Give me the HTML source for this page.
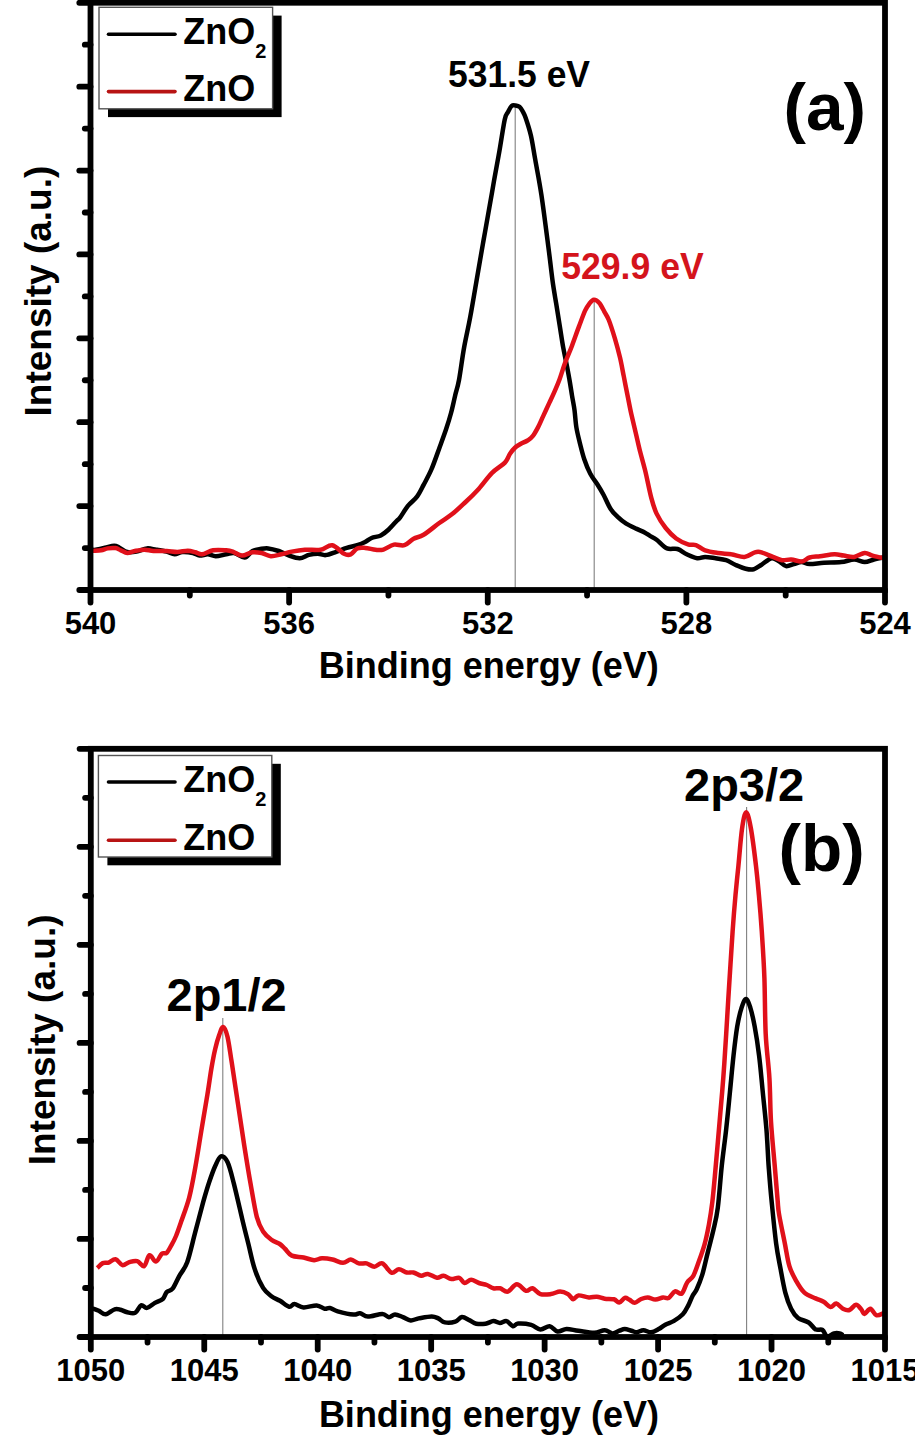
<!DOCTYPE html><html><head><meta charset="utf-8"><style>html,body{margin:0;padding:0;background:#fff;width:915px;height:1436px;overflow:hidden}svg{display:block}</style></head><body>
<svg width="915" height="1436" viewBox="0 0 915 1436">
<rect width="915" height="1436" fill="#fff"/>
<line x1="515.2" y1="106" x2="515.2" y2="590" stroke="#808080" stroke-width="1.1"/>
<line x1="594.2" y1="301" x2="594.2" y2="590" stroke="#808080" stroke-width="1.1"/>
<path d="M91.0,550.5 C91.4,550.5 90.9,550.8 93.2,550.3 C95.5,549.8 101.5,548.5 105.0,547.7 C108.5,546.9 111.8,545.7 114.2,545.7 C116.6,545.7 117.3,546.7 119.5,547.7 C121.7,548.8 124.5,551.4 127.3,552.0 C130.1,552.6 133.2,552.2 136.5,551.6 C139.8,551.0 143.7,548.7 147.0,548.4 C150.3,548.1 152.9,549.2 156.2,549.7 C159.5,550.2 163.6,550.8 166.7,551.6 C169.8,552.4 172.0,554.2 174.6,554.3 C177.2,554.4 179.3,552.2 182.4,552.0 C185.5,551.8 190.1,552.4 192.9,553.0 C195.8,553.6 197.0,555.4 199.5,555.6 C202.0,555.8 205.2,554.2 207.9,554.3 C210.6,554.4 212.6,556.2 215.7,556.2 C218.8,556.2 223.1,554.8 226.2,554.3 C229.3,553.8 231.0,552.5 234.1,553.0 C237.2,553.5 241.5,557.8 244.6,557.5 C247.7,557.2 249.9,552.4 252.5,551.0 C255.1,549.6 257.7,549.4 260.3,549.0 C262.9,548.6 265.1,548.1 268.2,548.4 C271.3,548.7 275.2,549.8 278.7,551.0 C282.2,552.2 285.7,554.4 289.2,555.6 C292.7,556.8 296.4,558.3 299.7,558.2 C303.0,558.1 305.9,555.6 308.9,554.9 C311.9,554.2 315.1,553.8 317.9,553.8 C320.7,553.8 322.6,555.4 325.7,555.1 C328.8,554.8 332.7,553.0 336.2,551.8 C339.7,550.6 343.2,549.0 346.7,547.9 C350.2,546.8 354.1,546.2 357.2,545.2 C360.3,544.2 362.7,543.2 365.1,542.0 C367.5,540.8 369.0,539.1 371.6,538.0 C374.2,536.9 378.0,536.8 380.8,535.4 C383.6,534.0 386.1,531.9 388.7,529.5 C391.3,527.1 394.7,523.0 396.6,521.0 C398.5,519.0 398.1,520.2 400.0,517.7 C401.9,515.2 405.1,509.4 407.9,505.9 C410.7,502.4 414.4,500.2 417.0,496.7 C419.6,493.2 421.2,489.5 423.6,484.9 C426.0,480.3 428.9,475.3 431.5,469.2 C434.1,463.1 436.9,454.8 439.3,448.2 C441.7,441.6 443.9,435.7 445.9,429.8 C447.9,423.9 449.6,418.5 451.1,412.8 C452.6,407.1 453.8,401.2 455.1,395.7 C456.4,390.2 457.5,388.0 459.0,380.0 C460.5,372.0 462.2,358.0 464.1,347.5 C466.0,337.0 468.0,329.0 470.2,317.2 C472.4,305.4 475.0,289.6 477.2,276.8 C479.4,264.0 481.4,252.3 483.5,240.5 C485.6,228.7 487.9,216.0 489.6,206.1 C491.4,196.2 492.4,190.1 494.0,180.9 C495.6,171.8 497.6,161.4 499.4,151.2 C501.2,141.0 503.3,126.2 504.7,119.7 C506.1,113.2 506.8,114.3 508.0,112.0 C509.2,109.7 510.4,107.0 511.7,105.9 C513.0,104.8 514.2,105.3 515.5,105.5 C516.8,105.7 518.3,105.9 519.5,106.8 C520.7,107.7 521.5,109.1 522.5,111.0 C523.5,112.9 524.3,113.9 525.7,118.0 C527.1,122.1 529.3,128.5 530.9,135.5 C532.5,142.5 533.5,150.0 535.3,159.9 C537.0,169.8 539.2,180.3 541.4,194.9 C543.6,209.5 547.0,236.5 548.4,247.3 C549.8,258.2 549.3,254.2 550.0,260.0 C550.7,265.8 551.7,274.6 552.7,281.9 C553.7,289.2 555.0,296.4 556.2,303.7 C557.4,311.0 558.5,318.3 559.7,325.6 C560.9,332.9 562.0,340.8 563.2,347.4 C564.4,353.9 565.7,359.5 566.7,364.9 C567.8,370.3 568.6,374.9 569.5,380.0 C570.4,385.1 571.2,390.5 572.0,395.5 C572.8,400.5 573.8,404.7 574.5,410.0 C575.2,415.3 575.5,422.0 576.4,427.5 C577.3,433.0 578.6,437.9 579.9,443.2 C581.2,448.4 582.5,453.9 584.2,459.0 C585.9,464.1 588.1,469.6 590.3,473.8 C592.5,478.0 595.1,480.8 597.3,484.3 C599.5,487.8 601.3,490.7 603.5,494.8 C605.7,498.9 608.2,505.2 610.5,508.8 C612.8,512.4 614.8,514.1 617.4,516.6 C620.0,519.1 623.0,521.6 626.2,523.6 C629.4,525.6 633.6,527.4 636.7,528.9 C639.8,530.4 642.4,531.3 644.6,532.5 C646.8,533.7 648.0,534.7 650.0,535.9 C652.0,537.1 653.8,537.7 656.6,539.8 C659.4,541.9 663.5,546.9 667.0,548.4 C670.5,549.9 674.2,548.0 677.5,549.0 C680.8,550.0 683.4,552.8 686.7,554.3 C690.0,555.8 694.1,557.8 697.2,558.2 C700.3,558.6 702.0,556.9 705.1,556.9 C708.2,556.9 712.1,557.7 715.6,558.2 C719.1,558.8 722.8,559.1 726.1,560.2 C729.4,561.3 731.9,563.4 735.2,564.8 C738.5,566.2 742.6,568.0 745.7,568.7 C748.8,569.5 751.0,569.9 753.6,569.3 C756.2,568.6 758.5,566.6 761.5,564.8 C764.5,562.9 768.6,558.8 771.6,558.2 C774.6,557.7 777.0,560.2 779.4,561.5 C781.8,562.8 783.6,565.7 786.0,566.1 C788.4,566.5 791.3,564.8 793.9,564.1 C796.5,563.4 799.1,562.1 801.7,562.1 C804.3,562.1 805.9,564.0 809.6,564.1 C813.3,564.2 818.8,563.1 824.0,562.8 C829.2,562.5 836.1,562.6 841.1,562.1 C846.1,561.6 850.3,559.5 854.2,559.5 C858.1,559.5 861.4,562.1 864.7,562.1 C868.0,562.1 870.7,560.3 873.9,559.5 C877.1,558.7 882.3,557.8 884.0,557.5" fill="none" stroke="#000" stroke-width="4.5" stroke-linejoin="round"/>
<path d="M91.0,551.0 C91.4,551.0 91.5,550.8 93.2,550.7 C94.9,550.6 98.7,550.7 101.1,550.3 C103.5,549.9 105.3,548.8 107.7,548.4 C110.1,548.0 113.3,547.8 115.5,548.1 C117.7,548.4 118.8,549.5 120.8,550.3 C122.8,551.1 125.1,552.9 127.3,553.0 C129.5,553.1 131.1,551.8 133.9,551.2 C136.8,550.7 141.1,549.7 144.4,549.7 C147.7,549.7 149.9,550.8 153.6,551.0 C157.3,551.2 162.8,550.8 166.7,551.0 C170.6,551.2 173.7,552.0 177.2,552.0 C180.7,552.0 184.6,550.7 187.7,550.7 C190.8,550.8 193.1,551.7 195.5,552.3 C197.9,552.9 199.2,554.6 202.1,554.3 C205.0,554.0 209.1,551.0 213.1,550.3 C217.1,549.6 222.9,550.1 226.2,550.3 C229.5,550.5 230.2,550.7 232.8,551.6 C235.4,552.5 238.7,555.5 242.0,555.6 C245.3,555.7 249.2,552.7 252.5,552.3 C255.8,551.9 258.6,552.4 261.6,553.0 C264.7,553.6 267.5,556.0 270.8,556.2 C274.1,556.4 277.8,555.1 281.3,554.3 C284.8,553.5 287.9,552.4 291.8,551.6 C295.7,550.8 300.1,550.0 304.9,549.7 C309.7,549.4 315.9,550.5 320.5,549.8 C325.1,549.0 328.4,544.5 332.3,545.2 C336.2,545.9 341.0,552.3 344.1,553.8 C347.2,555.3 348.5,555.3 350.7,554.4 C352.9,553.5 354.8,549.6 357.2,548.5 C359.6,547.4 362.0,547.7 365.1,547.9 C368.2,548.1 372.6,549.5 375.6,549.8 C378.7,550.1 380.3,550.5 383.4,549.6 C386.4,548.7 390.4,545.3 393.9,544.6 C397.4,543.9 401.1,546.2 404.4,545.2 C407.7,544.2 410.4,540.4 413.6,538.7 C416.8,537.0 419.3,537.4 423.6,534.8 C427.9,532.2 434.5,526.5 439.3,523.0 C444.1,519.5 448.1,517.3 452.5,513.8 C456.9,510.3 461.2,506.1 465.6,502.0 C470.0,497.9 474.3,493.7 478.7,488.9 C483.1,484.1 487.4,477.5 491.8,473.1 C496.2,468.7 501.9,465.8 504.9,462.6 C507.9,459.4 508.3,456.2 510.0,453.7 C511.7,451.2 513.5,449.1 515.2,447.5 C517.0,445.9 518.5,445.2 520.5,444.0 C522.5,442.8 525.5,441.8 527.5,440.5 C529.5,439.2 531.0,438.4 532.7,436.2 C534.5,434.0 536.2,430.8 538.0,427.4 C539.8,424.0 541.3,420.2 543.2,416.1 C545.1,412.0 547.4,407.0 549.3,402.9 C551.2,398.8 552.8,395.5 554.5,391.6 C556.2,387.7 557.8,384.2 559.5,379.5 C561.2,374.8 562.9,368.7 565.0,363.1 C567.1,357.5 569.7,351.8 572.0,345.7 C574.3,339.6 576.8,332.2 579.0,326.4 C581.2,320.6 583.4,314.5 585.1,310.7 C586.8,306.9 588.0,305.5 589.4,303.7 C590.8,301.9 592.2,299.9 593.8,299.8 C595.4,299.7 597.4,300.8 599.1,302.8 C600.9,304.8 602.7,308.7 604.3,311.6 C605.9,314.5 607.0,315.5 608.8,320.0 C610.6,324.5 613.1,332.5 615.0,338.8 C616.9,345.1 618.5,351.3 620.0,357.6 C621.5,363.9 622.5,370.1 623.8,376.4 C625.0,382.7 626.2,388.9 627.5,395.2 C628.8,401.5 629.9,407.8 631.3,414.0 C632.7,420.2 634.2,426.4 635.7,432.7 C637.2,438.9 638.5,445.2 640.1,451.5 C641.7,457.8 643.2,462.6 645.1,470.3 C647.0,478.0 649.4,490.7 651.3,497.9 C653.2,505.1 654.2,508.6 656.6,513.6 C659.0,518.6 662.4,523.9 665.7,528.0 C669.0,532.1 672.5,535.8 676.2,538.5 C679.9,541.2 684.7,543.3 688.0,544.4 C691.3,545.5 693.0,544.1 695.9,545.1 C698.8,546.1 701.4,549.0 705.1,550.3 C708.8,551.6 713.8,552.3 718.2,553.0 C722.6,553.7 726.9,553.6 731.3,554.3 C735.7,554.9 740.5,557.2 744.4,556.9 C748.3,556.6 752.0,553.1 754.9,552.3 C757.8,551.5 758.5,551.5 761.5,552.3 C764.5,553.1 769.5,555.6 772.9,556.9 C776.3,558.2 779.0,559.8 782.0,560.2 C785.0,560.6 787.9,559.3 791.2,559.5 C794.5,559.7 798.6,561.8 801.7,561.5 C804.8,561.2 806.5,558.4 809.6,557.5 C812.7,556.6 816.0,556.7 820.1,556.2 C824.2,555.7 830.6,554.4 834.5,554.3 C838.4,554.2 840.4,555.2 843.7,555.6 C847.0,556.0 850.7,557.4 854.2,556.9 C857.7,556.4 861.7,553.1 864.7,552.9 C867.8,552.7 869.3,554.7 872.5,555.6 C875.7,556.5 882.1,557.8 884.0,558.2" fill="none" stroke="#e0101a" stroke-width="4.5" stroke-linejoin="round"/>
<line x1="90.5" y1="590.00" x2="79.3" y2="590.00" stroke="#000" stroke-width="5.8" stroke-linecap="round"/>
<line x1="90.5" y1="548.05" x2="84.8" y2="548.05" stroke="#000" stroke-width="5.8" stroke-linecap="round"/>
<line x1="90.5" y1="506.11" x2="79.3" y2="506.11" stroke="#000" stroke-width="5.8" stroke-linecap="round"/>
<line x1="90.5" y1="464.16" x2="84.8" y2="464.16" stroke="#000" stroke-width="5.8" stroke-linecap="round"/>
<line x1="90.5" y1="422.21" x2="79.3" y2="422.21" stroke="#000" stroke-width="5.8" stroke-linecap="round"/>
<line x1="90.5" y1="380.27" x2="84.8" y2="380.27" stroke="#000" stroke-width="5.8" stroke-linecap="round"/>
<line x1="90.5" y1="338.32" x2="79.3" y2="338.32" stroke="#000" stroke-width="5.8" stroke-linecap="round"/>
<line x1="90.5" y1="296.38" x2="84.8" y2="296.38" stroke="#000" stroke-width="5.8" stroke-linecap="round"/>
<line x1="90.5" y1="254.43" x2="79.3" y2="254.43" stroke="#000" stroke-width="5.8" stroke-linecap="round"/>
<line x1="90.5" y1="212.48" x2="84.8" y2="212.48" stroke="#000" stroke-width="5.8" stroke-linecap="round"/>
<line x1="90.5" y1="170.54" x2="79.3" y2="170.54" stroke="#000" stroke-width="5.8" stroke-linecap="round"/>
<line x1="90.5" y1="128.59" x2="84.8" y2="128.59" stroke="#000" stroke-width="5.8" stroke-linecap="round"/>
<line x1="90.5" y1="86.64" x2="79.3" y2="86.64" stroke="#000" stroke-width="5.8" stroke-linecap="round"/>
<line x1="90.5" y1="44.70" x2="84.8" y2="44.70" stroke="#000" stroke-width="5.8" stroke-linecap="round"/>
<line x1="90.5" y1="2.75" x2="79.3" y2="2.75" stroke="#000" stroke-width="5.8" stroke-linecap="round"/>
<line x1="90.50" y1="590.0" x2="90.50" y2="602.5" stroke="#000" stroke-width="5.8" stroke-linecap="round"/>
<line x1="189.81" y1="590.0" x2="189.81" y2="595.5" stroke="#000" stroke-width="5.8" stroke-linecap="round"/>
<line x1="289.12" y1="590.0" x2="289.12" y2="602.5" stroke="#000" stroke-width="5.8" stroke-linecap="round"/>
<line x1="388.44" y1="590.0" x2="388.44" y2="595.5" stroke="#000" stroke-width="5.8" stroke-linecap="round"/>
<line x1="487.75" y1="590.0" x2="487.75" y2="602.5" stroke="#000" stroke-width="5.8" stroke-linecap="round"/>
<line x1="587.06" y1="590.0" x2="587.06" y2="595.5" stroke="#000" stroke-width="5.8" stroke-linecap="round"/>
<line x1="686.38" y1="590.0" x2="686.38" y2="602.5" stroke="#000" stroke-width="5.8" stroke-linecap="round"/>
<line x1="785.69" y1="590.0" x2="785.69" y2="595.5" stroke="#000" stroke-width="5.8" stroke-linecap="round"/>
<line x1="885.00" y1="590.0" x2="885.00" y2="602.5" stroke="#000" stroke-width="5.8" stroke-linecap="round"/>
<rect x="90.5" y="2.75" width="794.5" height="587.25" fill="none" stroke="#000" stroke-width="5.8"/>
<text transform="translate(90.5,634.4) scale(1,1.03)" font-family="Liberation Sans" font-weight="bold" font-size="31" text-anchor="middle">540</text>
<text transform="translate(289.1,634.4) scale(1,1.03)" font-family="Liberation Sans" font-weight="bold" font-size="31" text-anchor="middle">536</text>
<text transform="translate(487.8,634.4) scale(1,1.03)" font-family="Liberation Sans" font-weight="bold" font-size="31" text-anchor="middle">532</text>
<text transform="translate(686.4,634.4) scale(1,1.03)" font-family="Liberation Sans" font-weight="bold" font-size="31" text-anchor="middle">528</text>
<text transform="translate(885.0,634.4) scale(1,1.03)" font-family="Liberation Sans" font-weight="bold" font-size="31" text-anchor="middle">524</text>
<text x="488.8" y="677.5" font-family="Liberation Sans" font-weight="bold" font-size="36" text-anchor="middle">Binding energy (eV)</text>
<text transform="translate(51.3,416.5) rotate(-90)" font-family="Liberation Sans" font-weight="bold" font-size="37">Intensity (a.u.)</text>
<rect x="108" y="15.600000000000001" width="173.60000000000002" height="101.5" fill="#000"/>
<rect x="99" y="7.3" width="173.60000000000002" height="101.5" fill="#fff" stroke="#555" stroke-width="1.4"/>
<line x1="108.5" y1="34.2" x2="175" y2="34.2" stroke="#000" stroke-width="3.6" stroke-linecap="round"/>
<line x1="108.5" y1="91.6" x2="175" y2="91.6" stroke="#b81414" stroke-width="3.6" stroke-linecap="round"/>
<text x="183.2" y="43.5" font-family="Liberation Sans" font-weight="bold" font-size="36">ZnO</text>
<text x="255.3" y="58.1" font-family="Liberation Sans" font-weight="bold" font-size="20">2</text>
<text x="183.2" y="101" font-family="Liberation Sans" font-weight="bold" font-size="36">ZnO</text>
<text transform="translate(448,86.8) scale(1,1.05)" font-family="Liberation Sans" font-weight="bold" font-size="35.5">531.5 eV</text>
<text transform="translate(561.2,279) scale(1,1.03)" font-family="Liberation Sans" font-weight="bold" font-size="35.6" fill="#d4141c">529.9 eV</text>
<text x="783.5" y="130.1" font-family="Liberation Sans" font-weight="bold" font-size="67.5">(a)</text>
<line x1="746.6" y1="807" x2="746.6" y2="1337" stroke="#808080" stroke-width="1.1"/>
<line x1="222.8" y1="1018" x2="222.8" y2="1337" stroke="#808080" stroke-width="1.1"/>
<path d="M91.0,1308.5 C91.5,1308.5 92.6,1308.4 93.9,1308.8 C95.2,1309.2 96.8,1309.9 98.8,1310.8 C100.8,1311.7 103.1,1314.5 105.7,1314.3 C108.3,1314.0 112.1,1310.0 114.6,1309.3 C117.1,1308.5 118.4,1309.3 120.5,1309.8 C122.6,1310.3 124.8,1311.8 127.3,1312.3 C129.8,1312.8 132.9,1313.9 135.2,1312.8 C137.5,1311.7 139.1,1306.2 141.1,1305.4 C143.1,1304.6 144.7,1308.3 147.0,1307.9 C149.3,1307.5 152.3,1304.4 154.9,1302.9 C157.5,1301.4 160.8,1300.8 162.8,1299.0 C164.8,1297.2 165.1,1293.8 166.7,1292.1 C168.3,1290.4 170.5,1291.3 172.6,1288.7 C174.7,1286.1 176.7,1280.7 179.1,1276.3 C181.5,1271.9 184.5,1269.6 187.2,1262.2 C189.9,1254.8 192.6,1242.0 195.3,1231.9 C198.0,1221.8 201.0,1210.0 203.3,1201.6 C205.7,1193.2 207.4,1187.4 209.4,1181.5 C211.4,1175.6 213.3,1170.2 215.2,1166.0 C217.1,1161.8 218.8,1157.0 220.9,1156.3 C223.0,1155.6 225.3,1157.5 227.5,1162.0 C229.7,1166.5 231.4,1173.9 233.8,1183.4 C236.2,1192.9 239.8,1208.8 242.2,1218.9 C244.6,1229.0 246.3,1235.6 248.4,1244.0 C250.5,1252.4 252.2,1261.8 254.7,1269.1 C257.1,1276.4 260.3,1283.4 263.1,1287.9 C265.9,1292.4 268.6,1294.2 271.4,1296.3 C274.2,1298.4 277.0,1299.1 280.0,1300.8 C283.0,1302.5 286.8,1306.2 289.2,1306.7 C291.6,1307.2 292.0,1304.0 294.4,1304.1 C296.8,1304.2 299.9,1307.2 303.6,1307.4 C307.3,1307.6 313.2,1305.2 316.7,1305.4 C320.2,1305.6 322.4,1308.3 324.6,1308.7 C326.8,1309.1 327.6,1307.6 329.8,1308.0 C332.0,1308.4 333.8,1310.2 337.7,1311.3 C341.6,1312.4 349.7,1314.3 353.4,1314.6 C357.1,1314.9 357.6,1313.0 360.0,1313.3 C362.4,1313.6 364.2,1316.5 367.9,1316.6 C371.6,1316.7 378.8,1313.8 382.3,1313.9 C385.8,1314.0 386.8,1317.1 388.9,1317.2 C391.0,1317.3 392.7,1314.5 395.0,1314.5 C397.3,1314.5 400.3,1316.1 402.9,1317.1 C405.5,1318.1 408.1,1320.2 410.7,1320.4 C413.3,1320.6 415.1,1319.1 418.6,1318.4 C422.1,1317.8 428.4,1316.5 431.7,1316.5 C435.0,1316.5 436.1,1317.4 438.3,1318.4 C440.5,1319.4 442.0,1321.9 444.8,1322.4 C447.6,1323.0 452.5,1322.6 455.3,1321.7 C458.1,1320.8 459.5,1317.3 461.9,1317.1 C464.3,1316.9 467.4,1319.3 469.8,1320.4 C472.2,1321.5 473.7,1323.2 476.3,1323.7 C478.9,1324.2 482.6,1324.1 485.5,1323.7 C488.4,1323.3 491.0,1321.2 493.4,1321.1 C495.8,1321.0 497.7,1323.0 499.9,1323.0 C502.1,1323.0 504.3,1320.6 506.5,1321.1 C508.7,1321.6 511.0,1325.8 512.9,1326.2 C514.8,1326.6 515.0,1323.8 518.1,1323.6 C521.2,1323.4 527.5,1323.9 531.2,1324.9 C534.9,1325.9 537.3,1329.3 540.4,1329.5 C543.5,1329.7 546.8,1325.9 549.6,1326.2 C552.5,1326.5 554.7,1331.0 557.5,1331.5 C560.3,1332.0 563.1,1329.0 566.6,1328.9 C570.1,1328.8 573.8,1330.2 578.4,1330.8 C583.0,1331.4 589.8,1332.9 594.2,1332.8 C598.6,1332.7 601.7,1330.1 604.7,1330.2 C607.8,1330.3 610.0,1333.3 612.5,1333.4 C615.0,1333.5 617.4,1331.4 619.4,1330.7 C621.4,1330.0 622.8,1329.1 624.8,1329.1 C626.8,1329.1 629.4,1330.2 631.4,1330.7 C633.4,1331.2 634.9,1332.4 636.9,1332.3 C638.9,1332.2 641.0,1330.2 643.4,1330.2 C645.8,1330.2 648.5,1332.5 651.1,1332.3 C653.7,1332.1 656.3,1330.4 658.7,1329.1 C661.1,1327.8 662.8,1326.1 665.3,1324.7 C667.8,1323.3 671.1,1322.6 674.0,1320.9 C676.9,1319.2 680.4,1316.8 682.8,1314.3 C685.2,1311.8 686.6,1308.7 688.2,1305.6 C689.8,1302.5 691.2,1298.4 692.6,1295.7 C694.0,1293.0 695.1,1292.7 696.7,1289.2 C698.3,1285.7 700.4,1280.8 702.3,1274.7 C704.1,1268.6 705.9,1259.8 707.8,1252.4 C709.6,1245.0 711.7,1237.5 713.4,1230.1 C715.1,1222.7 716.4,1218.6 717.8,1207.8 C719.2,1197.0 720.4,1178.7 721.8,1165.5 C723.2,1152.3 724.9,1141.1 726.2,1128.9 C727.6,1116.7 728.7,1104.6 729.9,1092.4 C731.1,1080.2 732.3,1066.8 733.5,1055.8 C734.7,1044.8 735.9,1034.6 737.2,1026.6 C738.6,1018.6 740.1,1012.2 741.6,1007.6 C743.1,1003.0 744.5,999.0 746.0,999.0 C747.5,999.0 748.8,1003.0 750.3,1007.6 C751.8,1012.2 753.2,1018.6 754.7,1026.6 C756.2,1034.6 757.8,1044.8 759.1,1055.8 C760.5,1066.8 761.6,1080.2 762.8,1092.4 C764.0,1104.6 765.4,1116.7 766.4,1128.9 C767.4,1141.1 767.8,1153.7 768.6,1165.5 C769.5,1177.3 770.2,1187.0 771.5,1200.0 C772.8,1213.0 774.6,1231.6 776.1,1243.2 C777.6,1254.8 779.2,1261.5 780.7,1269.7 C782.2,1277.9 783.6,1286.1 785.3,1292.6 C787.0,1299.1 789.0,1304.5 791.1,1308.7 C793.2,1312.9 795.1,1315.6 798.0,1317.9 C800.9,1320.2 805.8,1320.6 808.7,1322.5 C811.6,1324.4 813.3,1328.2 815.6,1329.4 C817.9,1330.7 820.6,1328.8 822.5,1330.0 C824.4,1331.2 825.2,1335.7 827.1,1336.3 C829.0,1336.9 831.9,1333.9 834.0,1333.4 C836.1,1332.9 838.2,1333.1 839.7,1333.4 C841.2,1333.7 842.6,1334.9 843.2,1335.2" fill="none" stroke="#000" stroke-width="4.5" stroke-linejoin="round"/>
<path d="M97.3,1268.0 C98.2,1267.2 100.9,1264.0 102.8,1263.1 C104.7,1262.2 106.6,1263.2 108.7,1262.6 C110.8,1261.9 113.2,1258.8 115.5,1259.2 C117.8,1259.6 120.1,1264.6 122.4,1265.1 C124.7,1265.6 126.8,1262.8 129.3,1262.1 C131.8,1261.4 134.7,1260.4 137.2,1261.1 C139.7,1261.8 142.0,1267.1 144.1,1266.1 C146.2,1265.1 147.5,1256.0 149.5,1255.2 C151.5,1254.5 153.8,1261.8 155.9,1261.6 C158.0,1261.4 160.0,1255.3 161.8,1253.8 C163.6,1252.3 165.1,1254.3 166.7,1252.8 C168.3,1251.3 170.0,1247.7 171.6,1244.9 C173.2,1242.1 174.4,1239.8 176.0,1236.0 C177.6,1232.2 178.9,1228.2 181.1,1221.8 C183.3,1215.4 186.8,1206.7 189.2,1197.6 C191.6,1188.5 193.3,1178.5 195.3,1167.4 C197.3,1156.3 199.3,1143.1 201.3,1131.0 C203.3,1118.9 205.7,1105.1 207.4,1094.7 C209.1,1084.3 210.1,1076.1 211.4,1068.5 C212.7,1060.9 213.9,1054.6 215.2,1049.0 C216.5,1043.4 217.9,1038.8 219.2,1035.1 C220.5,1031.4 221.7,1026.6 223.1,1026.9 C224.5,1027.2 226.1,1030.8 227.5,1036.7 C228.9,1042.6 229.9,1051.0 231.7,1062.2 C233.4,1073.4 235.9,1090.1 238.0,1104.0 C240.1,1117.9 242.2,1132.6 244.3,1145.8 C246.4,1159.0 248.4,1171.6 250.5,1183.4 C252.6,1195.2 254.7,1208.9 256.8,1216.9 C258.9,1224.9 260.7,1227.7 263.1,1231.5 C265.5,1235.3 268.6,1237.7 271.4,1239.8 C274.2,1241.9 277.5,1242.5 279.8,1244.0 C282.1,1245.5 283.2,1247.1 285.2,1249.0 C287.2,1250.9 288.7,1254.2 291.8,1255.6 C294.9,1257.0 299.9,1256.7 303.6,1257.5 C307.3,1258.3 311.0,1260.1 314.1,1260.2 C317.2,1260.3 318.9,1258.3 322.0,1258.2 C325.1,1258.1 329.0,1258.7 332.5,1259.5 C336.0,1260.3 339.9,1262.8 343.0,1262.8 C346.1,1262.8 348.2,1259.4 350.8,1259.5 C353.4,1259.6 356.1,1262.8 358.7,1263.4 C361.3,1264.1 364.0,1262.9 366.6,1263.4 C369.2,1264.0 371.8,1266.7 374.4,1266.7 C377.0,1266.7 379.4,1262.4 382.3,1263.4 C385.2,1264.4 388.7,1271.6 391.5,1272.6 C394.3,1273.6 396.3,1269.3 398.9,1269.3 C401.4,1269.3 404.4,1272.0 406.8,1272.5 C409.2,1273.0 411.0,1272.0 413.4,1272.5 C415.8,1273.0 418.8,1275.6 421.2,1275.8 C423.6,1276.0 425.2,1273.6 427.8,1273.9 C430.4,1274.2 434.4,1277.5 437.0,1277.8 C439.6,1278.1 441.1,1275.6 443.5,1275.8 C445.9,1276.0 448.8,1278.8 451.4,1279.1 C454.0,1279.4 457.1,1277.1 459.3,1277.8 C461.5,1278.5 462.5,1282.7 464.5,1283.0 C466.5,1283.3 468.7,1279.8 471.1,1279.8 C473.5,1279.8 476.3,1282.1 478.9,1283.0 C481.5,1283.9 484.4,1284.1 486.8,1285.0 C489.2,1285.9 491.2,1287.8 493.4,1288.3 C495.6,1288.8 497.5,1287.8 499.9,1288.3 C502.3,1288.8 505.0,1292.3 507.8,1291.6 C510.6,1290.9 513.8,1284.4 516.8,1284.3 C519.8,1284.2 523.4,1290.1 526.0,1290.8 C528.6,1291.5 530.1,1287.7 532.5,1288.2 C534.9,1288.8 537.3,1293.1 540.4,1294.1 C543.5,1295.1 547.6,1294.5 550.9,1294.1 C554.2,1293.7 557.2,1291.5 560.1,1291.5 C563.0,1291.5 565.8,1292.8 568.0,1294.1 C570.2,1295.4 571.5,1299.1 573.2,1299.3 C574.9,1299.5 575.8,1295.7 578.4,1295.4 C581.0,1295.1 585.8,1297.2 588.9,1297.4 C592.0,1297.6 594.2,1296.5 596.8,1296.7 C599.4,1296.9 601.9,1298.3 604.7,1298.7 C607.6,1299.1 611.5,1298.7 613.9,1299.3 C616.3,1299.9 617.3,1302.8 619.1,1302.6 C620.9,1302.4 623.1,1298.4 624.8,1297.9 C626.5,1297.4 627.6,1298.8 629.2,1299.6 C630.9,1300.4 632.7,1302.9 634.7,1302.8 C636.7,1302.7 639.0,1299.9 641.2,1299.0 C643.4,1298.1 645.4,1297.3 647.8,1297.4 C650.2,1297.5 652.8,1299.6 655.4,1299.6 C658.0,1299.6 660.9,1297.7 663.1,1297.4 C665.3,1297.1 666.6,1298.9 668.6,1297.9 C670.6,1296.9 672.9,1292.1 675.1,1291.4 C677.3,1290.7 679.7,1295.1 681.7,1293.6 C683.7,1292.1 685.2,1285.6 687.1,1282.6 C689.0,1279.6 691.3,1279.3 693.3,1275.8 C695.3,1272.2 697.0,1266.5 698.9,1261.3 C700.8,1256.1 702.8,1250.7 704.5,1244.6 C706.2,1238.5 707.6,1231.6 708.9,1224.6 C710.2,1217.5 711.2,1211.4 712.3,1202.3 C713.4,1193.2 714.2,1183.5 715.4,1170.0 C716.6,1156.5 718.3,1137.0 719.6,1121.6 C720.9,1106.2 722.2,1092.4 723.3,1077.8 C724.4,1063.2 725.2,1049.7 726.2,1033.9 C727.2,1018.1 728.2,1000.0 729.3,983.0 C730.4,966.0 731.6,946.4 732.6,931.7 C733.6,917.1 734.5,906.1 735.5,895.1 C736.5,884.1 737.3,876.9 738.4,865.9 C739.5,854.9 740.7,838.0 742.0,829.0 C743.3,820.0 744.7,812.2 746.2,812.2 C747.7,812.2 749.4,820.0 751.0,829.0 C752.6,838.0 754.7,854.9 756.0,865.9 C757.3,876.9 757.9,884.1 758.9,895.1 C759.9,906.1 760.9,917.9 761.8,931.7 C762.7,945.5 763.8,961.0 764.4,978.0 C765.0,995.0 764.9,1017.3 765.7,1033.9 C766.5,1050.5 768.5,1063.2 769.4,1077.8 C770.3,1092.4 770.1,1107.0 771.0,1121.6 C771.9,1136.2 773.6,1152.4 774.7,1165.5 C775.8,1178.6 776.9,1191.8 777.6,1200.0 C778.3,1208.2 777.9,1207.3 779.1,1214.5 C780.3,1221.7 783.1,1234.6 784.8,1243.2 C786.5,1251.8 787.5,1259.9 789.4,1266.2 C791.3,1272.5 793.8,1276.7 796.3,1281.1 C798.8,1285.5 801.2,1289.7 804.4,1292.6 C807.6,1295.5 812.4,1296.9 815.6,1298.4 C818.8,1299.9 821.1,1300.4 823.6,1301.8 C826.1,1303.2 828.4,1306.7 830.5,1307.0 C832.6,1307.3 834.2,1303.3 836.3,1303.6 C838.4,1303.9 840.7,1307.6 842.9,1308.7 C845.1,1309.8 847.2,1310.7 849.4,1310.0 C851.6,1309.3 854.0,1304.9 856.0,1304.8 C858.0,1304.7 859.8,1307.8 861.2,1309.3 C862.6,1310.8 863.0,1314.0 864.5,1313.9 C866.0,1313.8 868.4,1308.5 870.4,1308.7 C872.4,1308.9 874.1,1314.4 876.3,1315.2 C878.5,1316.0 882.3,1313.6 883.5,1313.3" fill="none" stroke="#e0101a" stroke-width="4.5" stroke-linejoin="round"/>
<line x1="90.8" y1="1337.00" x2="79.6" y2="1337.00" stroke="#000" stroke-width="5.8" stroke-linecap="round"/>
<line x1="90.8" y1="1287.98" x2="85.1" y2="1287.98" stroke="#000" stroke-width="5.8" stroke-linecap="round"/>
<line x1="90.8" y1="1238.97" x2="79.6" y2="1238.97" stroke="#000" stroke-width="5.8" stroke-linecap="round"/>
<line x1="90.8" y1="1189.95" x2="85.1" y2="1189.95" stroke="#000" stroke-width="5.8" stroke-linecap="round"/>
<line x1="90.8" y1="1140.93" x2="79.6" y2="1140.93" stroke="#000" stroke-width="5.8" stroke-linecap="round"/>
<line x1="90.8" y1="1091.92" x2="85.1" y2="1091.92" stroke="#000" stroke-width="5.8" stroke-linecap="round"/>
<line x1="90.8" y1="1042.90" x2="79.6" y2="1042.90" stroke="#000" stroke-width="5.8" stroke-linecap="round"/>
<line x1="90.8" y1="993.88" x2="85.1" y2="993.88" stroke="#000" stroke-width="5.8" stroke-linecap="round"/>
<line x1="90.8" y1="944.87" x2="79.6" y2="944.87" stroke="#000" stroke-width="5.8" stroke-linecap="round"/>
<line x1="90.8" y1="895.85" x2="85.1" y2="895.85" stroke="#000" stroke-width="5.8" stroke-linecap="round"/>
<line x1="90.8" y1="846.83" x2="79.6" y2="846.83" stroke="#000" stroke-width="5.8" stroke-linecap="round"/>
<line x1="90.8" y1="797.82" x2="85.1" y2="797.82" stroke="#000" stroke-width="5.8" stroke-linecap="round"/>
<line x1="90.8" y1="748.80" x2="79.6" y2="748.80" stroke="#000" stroke-width="5.8" stroke-linecap="round"/>
<line x1="90.80" y1="1337.0" x2="90.80" y2="1349.5" stroke="#000" stroke-width="5.8" stroke-linecap="round"/>
<line x1="147.53" y1="1337.0" x2="147.53" y2="1342.5" stroke="#000" stroke-width="5.8" stroke-linecap="round"/>
<line x1="204.26" y1="1337.0" x2="204.26" y2="1349.5" stroke="#000" stroke-width="5.8" stroke-linecap="round"/>
<line x1="260.99" y1="1337.0" x2="260.99" y2="1342.5" stroke="#000" stroke-width="5.8" stroke-linecap="round"/>
<line x1="317.71" y1="1337.0" x2="317.71" y2="1349.5" stroke="#000" stroke-width="5.8" stroke-linecap="round"/>
<line x1="374.44" y1="1337.0" x2="374.44" y2="1342.5" stroke="#000" stroke-width="5.8" stroke-linecap="round"/>
<line x1="431.17" y1="1337.0" x2="431.17" y2="1349.5" stroke="#000" stroke-width="5.8" stroke-linecap="round"/>
<line x1="487.90" y1="1337.0" x2="487.90" y2="1342.5" stroke="#000" stroke-width="5.8" stroke-linecap="round"/>
<line x1="544.63" y1="1337.0" x2="544.63" y2="1349.5" stroke="#000" stroke-width="5.8" stroke-linecap="round"/>
<line x1="601.36" y1="1337.0" x2="601.36" y2="1342.5" stroke="#000" stroke-width="5.8" stroke-linecap="round"/>
<line x1="658.09" y1="1337.0" x2="658.09" y2="1349.5" stroke="#000" stroke-width="5.8" stroke-linecap="round"/>
<line x1="714.81" y1="1337.0" x2="714.81" y2="1342.5" stroke="#000" stroke-width="5.8" stroke-linecap="round"/>
<line x1="771.54" y1="1337.0" x2="771.54" y2="1349.5" stroke="#000" stroke-width="5.8" stroke-linecap="round"/>
<line x1="828.27" y1="1337.0" x2="828.27" y2="1342.5" stroke="#000" stroke-width="5.8" stroke-linecap="round"/>
<line x1="885.00" y1="1337.0" x2="885.00" y2="1349.5" stroke="#000" stroke-width="5.8" stroke-linecap="round"/>
<rect x="90.8" y="748.8" width="794.2" height="588.2" fill="none" stroke="#000" stroke-width="5.8"/>
<text transform="translate(90.8,1380.7) scale(1,1.03)" font-family="Liberation Sans" font-weight="bold" font-size="31" text-anchor="middle">1050</text>
<text transform="translate(204.3,1380.7) scale(1,1.03)" font-family="Liberation Sans" font-weight="bold" font-size="31" text-anchor="middle">1045</text>
<text transform="translate(317.7,1380.7) scale(1,1.03)" font-family="Liberation Sans" font-weight="bold" font-size="31" text-anchor="middle">1040</text>
<text transform="translate(431.2,1380.7) scale(1,1.03)" font-family="Liberation Sans" font-weight="bold" font-size="31" text-anchor="middle">1035</text>
<text transform="translate(544.6,1380.7) scale(1,1.03)" font-family="Liberation Sans" font-weight="bold" font-size="31" text-anchor="middle">1030</text>
<text transform="translate(658.1,1380.7) scale(1,1.03)" font-family="Liberation Sans" font-weight="bold" font-size="31" text-anchor="middle">1025</text>
<text transform="translate(771.5,1380.7) scale(1,1.03)" font-family="Liberation Sans" font-weight="bold" font-size="31" text-anchor="middle">1020</text>
<text transform="translate(885.0,1380.7) scale(1,1.03)" font-family="Liberation Sans" font-weight="bold" font-size="31" text-anchor="middle">1015</text>
<text x="488.9" y="1427" font-family="Liberation Sans" font-weight="bold" font-size="36" text-anchor="middle">Binding energy (eV)</text>
<text transform="translate(55,1165.3) rotate(-90)" font-family="Liberation Sans" font-weight="bold" font-size="37">Intensity (a.u.)</text>
<rect x="107.4" y="763.8" width="173.4" height="101.5" fill="#000"/>
<rect x="98.4" y="755.5" width="173.4" height="101.5" fill="#fff" stroke="#555" stroke-width="1.4"/>
<line x1="108.5" y1="782" x2="175" y2="782" stroke="#000" stroke-width="3.6" stroke-linecap="round"/>
<line x1="108.5" y1="840.3" x2="175" y2="840.3" stroke="#b81414" stroke-width="3.6" stroke-linecap="round"/>
<text x="183.2" y="792.1" font-family="Liberation Sans" font-weight="bold" font-size="36">ZnO</text>
<text x="255.3" y="805.9" font-family="Liberation Sans" font-weight="bold" font-size="20">2</text>
<text x="183.2" y="849.8" font-family="Liberation Sans" font-weight="bold" font-size="36">ZnO</text>
<text x="684" y="800.6" font-family="Liberation Sans" font-weight="bold" font-size="47">2p3/2</text>
<text x="166.5" y="1011.2" font-family="Liberation Sans" font-weight="bold" font-size="47">2p1/2</text>
<text x="778.5" y="871.3" font-family="Liberation Sans" font-weight="bold" font-size="67.5">(b)</text>
</svg></body></html>
